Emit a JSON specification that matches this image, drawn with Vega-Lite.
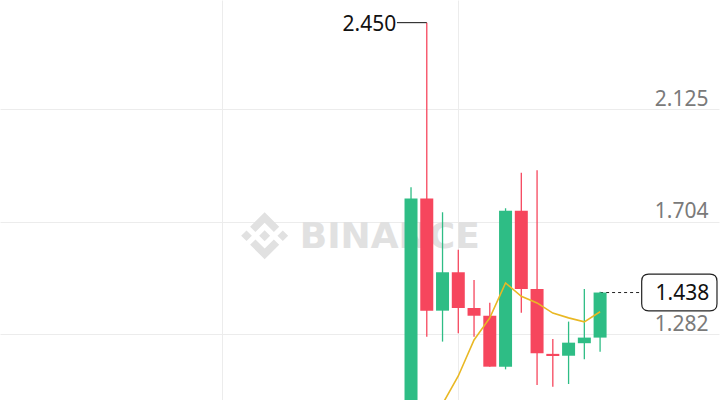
{
  "$schema": "https://vega.github.io/schema/vega-lite/v6.json",
  "width": 720,
  "height": 400,
  "autosize": {"type": "fit", "contains": "padding"},
  "padding": 0,
  "background": "white",
  "config": {
    "view": {"stroke": null},
    "font": "Noto Sans",
    "axisX": {"grid": true, "gridColor": "#ececec", "gridWidth": 1, "labels": false, "ticks": false, "domain": false},
    "axisY": {
      "grid": true,
      "gridColor": "#ececec",
      "gridWidth": 1,
      "ticks": false,
      "tickSize": 0,
      "domain": false,
      "labelAlign": "right",
      "labelBaseline": "bottom",
      "labelPadding": -11,
      "labelFont": "Noto Sans",
      "labelFontSize": 21,
      "labelColor": "#7a7a7a"
    }
  },
  "datasets": {
    "candles": [
      {"i": 1, "open": 0.95, "high": 1.833, "low": 0.92, "close": 1.791},
      {"i": 2, "open": 1.791, "high": 2.450, "low": 1.272, "close": 1.370},
      {"i": 3, "open": 1.370, "high": 1.739, "low": 1.254, "close": 1.514},
      {"i": 4, "open": 1.514, "high": 1.598, "low": 1.285, "close": 1.380},
      {"i": 5, "open": 1.380, "high": 1.485, "low": 1.272, "close": 1.351},
      {"i": 6, "open": 1.351, "high": 1.400, "low": 1.160, "close": 1.160},
      {"i": 7, "open": 1.160, "high": 1.754, "low": 1.150, "close": 1.745},
      {"i": 8, "open": 1.745, "high": 1.887, "low": 1.362, "close": 1.451},
      {"i": 9, "open": 1.451, "high": 1.897, "low": 1.091, "close": 1.210},
      {"i": 10, "open": 1.208, "high": 1.264, "low": 1.085, "close": 1.200},
      {"i": 11, "open": 1.201, "high": 1.329, "low": 1.095, "close": 1.250},
      {"i": 12, "open": 1.248, "high": 1.451, "low": 1.188, "close": 1.269},
      {"i": 13, "open": 1.269, "high": 1.441, "low": 1.216, "close": 1.438}
    ],
    "ma7": [
      {"i": 3, "ma": 1.02},
      {"i": 4, "ma": 1.125},
      {"i": 5, "ma": 1.260},
      {"i": 6, "ma": 1.343},
      {"i": 7, "ma": 1.474},
      {"i": 8, "ma": 1.424},
      {"i": 9, "ma": 1.399},
      {"i": 10, "ma": 1.361},
      {"i": 11, "ma": 1.343},
      {"i": 12, "ma": 1.328},
      {"i": 13, "ma": 1.366}
    ],
    "brand": [{"name": "BINANCE"}]
  },
  "layer": [
    {
      "data": {"name": "brand"},
      "mark": {
        "type": "point",
        "filled": true,
        "opacity": 1,
        "color": "#e1e1e1",
        "size": 2209,
        "shape": "M-0.392,-0.156L0,-0.548L0.392,-0.156L0.619,-0.384L0,-1L-0.619,-0.384Z M-0.392,0.156L0,0.548L0.392,0.156L0.619,0.384L0,1L-0.619,0.384Z M-1,0L-0.772,-0.228L-0.544,0L-0.772,0.228Z M1,0L0.772,-0.228L0.544,0L0.772,0.228Z M0,-0.233L0.233,0L0,0.233L-0.233,0Z"
      },
      "encoding": {
        "x": {"datum": -8.29, "type": "quantitative", "title": null, "scale": {"domain": [-24.77, 20.23], "nice": false, "zero": false}, "axis": {"values": [-11, 4], "title": null}},
        "y": {"datum": 1.651, "type": "quantitative", "title": null, "scale": {"domain": [1.035, 2.535], "nice": false, "zero": false}, "axis": {"orient": "right", "values": [1.282, 1.704, 2.125], "format": ".3f", "title": null}}
      }
    },
    {
      "data": {"name": "brand"},
      "mark": {"type": "text", "font": "DejaVu Sans", "fontWeight": "bold", "fontSize": 36, "align": "left", "baseline": "alphabetic", "color": "#e1e1e1"},
      "encoding": {
        "x": {"datum": -6.06, "type": "quantitative", "title": null, "scale": {"domain": [-24.77, 20.23], "nice": false, "zero": false}, "axis": {"values": [-11, 4], "title": null}},
        "y": {"datum": 1.604, "type": "quantitative", "title": null, "scale": {"domain": [1.035, 2.535], "nice": false, "zero": false}, "axis": {"orient": "right", "values": [1.282, 1.704, 2.125], "format": ".3f", "title": null}},
        "text": {"field": "name", "type": "nominal"}
      }
    },
    {
      "data": {"name": "candles"},
      "transform": [{"filter": "datum.i == 13"}],
      "mark": {"type": "rule", "color": "#222222", "strokeWidth": 1, "strokeDash": [3, 3]},
      "encoding": {
        "x": {"field": "i", "type": "quantitative", "title": null, "scale": {"domain": [-24.77, 20.23], "nice": false, "zero": false}, "axis": {"values": [-11, 4], "title": null}},
        "x2": {"datum": 15.6},
        "y": {"field": "close", "type": "quantitative", "title": null, "scale": {"domain": [1.035, 2.535], "nice": false, "zero": false}, "axis": {"orient": "right", "values": [1.282, 1.704, 2.125], "format": ".3f", "title": null}}
      }
    },
    {
      "data": {"name": "candles"},
      "mark": {"type": "rule", "strokeWidth": 1.3, "clip": true},
      "encoding": {
        "x": {"field": "i", "type": "quantitative", "title": null, "scale": {"domain": [-24.77, 20.23], "nice": false, "zero": false}, "axis": {"values": [-11, 4], "title": null}},
        "y": {"field": "low", "type": "quantitative", "title": null, "scale": {"domain": [1.035, 2.535], "nice": false, "zero": false}, "axis": {"orient": "right", "values": [1.282, 1.704, 2.125], "format": ".3f", "title": null}},
        "y2": {"field": "high"},
        "color": {"condition": {"test": "datum.close >= datum.open", "value": "#2ebd85"}, "value": "#f6465d"}
      }
    },
    {
      "data": {"name": "candles"},
      "mark": {"type": "bar", "size": 13, "clip": true},
      "encoding": {
        "x": {"field": "i", "type": "quantitative", "title": null, "scale": {"domain": [-24.77, 20.23], "nice": false, "zero": false}, "axis": {"values": [-11, 4], "title": null}},
        "y": {"field": "open", "type": "quantitative", "title": null, "scale": {"domain": [1.035, 2.535], "nice": false, "zero": false}, "axis": {"orient": "right", "values": [1.282, 1.704, 2.125], "format": ".3f", "title": null}},
        "y2": {"field": "close"},
        "color": {"condition": {"test": "datum.close >= datum.open", "value": "#2ebd85"}, "value": "#f6465d"}
      }
    },
    {
      "data": {"name": "ma7"},
      "mark": {"type": "line", "color": "#e9b824", "strokeWidth": 1.6, "clip": true},
      "encoding": {
        "x": {"field": "i", "type": "quantitative", "title": null, "scale": {"domain": [-24.77, 20.23], "nice": false, "zero": false}, "axis": {"values": [-11, 4], "title": null}},
        "y": {"field": "ma", "type": "quantitative", "title": null, "scale": {"domain": [1.035, 2.535], "nice": false, "zero": false}, "axis": {"orient": "right", "values": [1.282, 1.704, 2.125], "format": ".3f", "title": null}}
      }
    },
    {
      "data": {"name": "candles"},
      "transform": [{"filter": "datum.high >= 2.45"}],
      "mark": {"type": "rule", "color": "#111111", "strokeWidth": 1},
      "encoding": {
        "x": {"field": "i", "type": "quantitative", "title": null, "scale": {"domain": [-24.77, 20.23], "nice": false, "zero": false}, "axis": {"values": [-11, 4], "title": null}},
        "x2": {"datum": 0.106},
        "y": {"field": "high", "type": "quantitative", "title": null, "scale": {"domain": [1.035, 2.535], "nice": false, "zero": false}, "axis": {"orient": "right", "values": [1.282, 1.704, 2.125], "format": ".3f", "title": null}}
      }
    },
    {
      "data": {"name": "candles"},
      "transform": [{"filter": "datum.high >= 2.45"}],
      "mark": {"type": "text", "align": "right", "baseline": "middle", "dy": 2, "fontSize": 21, "color": "#111111"},
      "encoding": {
        "x": {"datum": 0.06, "type": "quantitative", "title": null, "scale": {"domain": [-24.77, 20.23], "nice": false, "zero": false}, "axis": {"values": [-11, 4], "title": null}},
        "y": {"field": "high", "type": "quantitative", "title": null, "scale": {"domain": [1.035, 2.535], "nice": false, "zero": false}, "axis": {"orient": "right", "values": [1.282, 1.704, 2.125], "format": ".3f", "title": null}},
        "text": {"field": "high", "type": "quantitative", "format": ".3f"}
      }
    },
    {
      "data": {"name": "candles"},
      "transform": [{"filter": "datum.i == 13"}],
      "mark": {
        "type": "point",
        "filled": true,
        "fill": "white",
        "stroke": "#222222",
        "strokeWidth": 1.2,
        "opacity": 1,
        "size": 5670,
        "shape": "M-0.814,-0.487L0.814,-0.487Q1,-0.487 1,-0.301L1,0.301Q1,0.487 0.814,0.487L-0.814,0.487Q-1,0.487 -1,0.301L-1,-0.301Q-1,-0.487 -0.814,-0.487Z"
      },
      "encoding": {
        "x": {"datum": 18.03, "type": "quantitative", "title": null, "scale": {"domain": [-24.77, 20.23], "nice": false, "zero": false}, "axis": {"values": [-11, 4], "title": null}},
        "y": {"field": "close", "type": "quantitative", "title": null, "scale": {"domain": [1.035, 2.535], "nice": false, "zero": false}, "axis": {"orient": "right", "values": [1.282, 1.704, 2.125], "format": ".3f", "title": null}}
      }
    },
    {
      "data": {"name": "candles"},
      "transform": [{"filter": "datum.i == 13"}],
      "mark": {"type": "text", "align": "center", "baseline": "middle", "dy": 1, "fontSize": 21, "color": "#111111"},
      "encoding": {
        "x": {"datum": 18.22, "type": "quantitative", "title": null, "scale": {"domain": [-24.77, 20.23], "nice": false, "zero": false}, "axis": {"values": [-11, 4], "title": null}},
        "y": {"field": "close", "type": "quantitative", "title": null, "scale": {"domain": [1.035, 2.535], "nice": false, "zero": false}, "axis": {"orient": "right", "values": [1.282, 1.704, 2.125], "format": ".3f", "title": null}},
        "text": {"field": "close", "type": "quantitative", "format": ".3f"}
      }
    }
  ]
}
